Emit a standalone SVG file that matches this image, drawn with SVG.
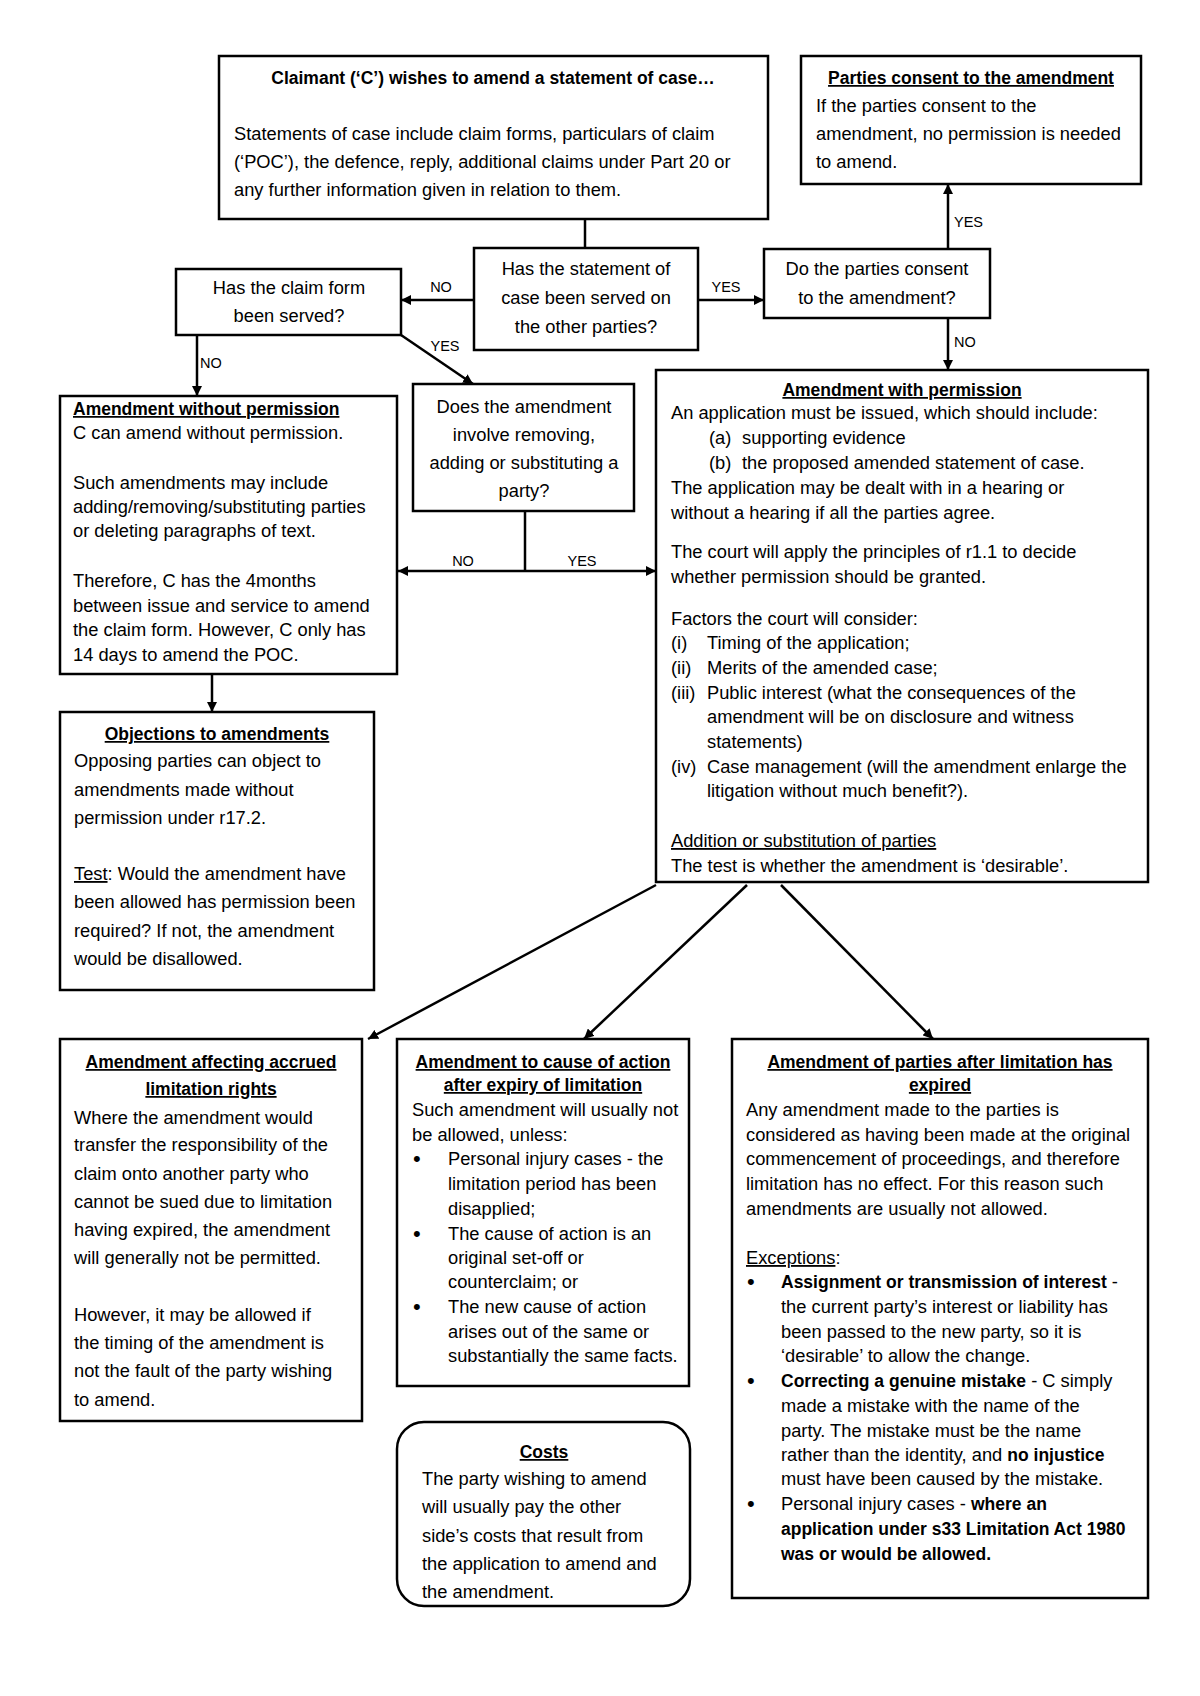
<svg xmlns="http://www.w3.org/2000/svg" width="1200" height="1696" viewBox="0 0 1200 1696">
<style>
.bg{fill:#fff}
.box{fill:#fff;stroke:#000;stroke-width:2.5}
text{font-family:"Liberation Sans",Arial,sans-serif;font-size:18.3px;fill:#000}
.b{font-weight:bold;font-size:17.5px}
.u{text-decoration:underline}
.c{text-anchor:middle}
.lbl{font-size:14.5px}
.bul{font-size:22px}
.conn line,.conn path{stroke:#000;stroke-width:2.5;fill:none}
</style>
<defs>
<marker id="ah" viewBox="0 0 10 10" refX="10" refY="5" markerWidth="4" markerHeight="4" orient="auto-start-reverse" markerUnits="strokeWidth">
<path d="M0,0 L10,5 L0,10 z" fill="#000"/>
</marker>
</defs>
<rect class="bg" x="0" y="0" width="1200" height="1696"/>

<g id="connectors" class="conn">
<line x1="585" y1="219" x2="585" y2="248"/>
<line x1="474" y1="300" x2="401" y2="300" marker-end="url(#ah)"/>
<line x1="698" y1="300" x2="764" y2="300" marker-end="url(#ah)"/>
<line x1="948" y1="249" x2="948" y2="184" marker-end="url(#ah)"/>
<line x1="948" y1="318" x2="948" y2="370" marker-end="url(#ah)"/>
<line x1="197" y1="335" x2="197" y2="396" marker-end="url(#ah)"/>
<line x1="401" y1="335" x2="473" y2="384" marker-end="url(#ah)"/>
<line x1="525" y1="511" x2="525" y2="571"/>
<line x1="398" y1="571" x2="656" y2="571" marker-start="url(#ah)" marker-end="url(#ah)"/>
<line x1="212" y1="674" x2="212" y2="712" marker-end="url(#ah)"/>
<line x1="656" y1="885" x2="368" y2="1039" marker-end="url(#ah)"/>
<line x1="747" y1="885" x2="584" y2="1039" marker-end="url(#ah)"/>
<line x1="781" y1="885" x2="933" y2="1039" marker-end="url(#ah)"/>
<text class="lbl c" x="441" y="292">NO</text>
<text class="lbl c" x="726" y="292">YES</text>
<text class="lbl" x="954" y="227">YES</text>
<text class="lbl" x="954" y="347">NO</text>
<text class="lbl" x="200" y="368">NO</text>
<text class="lbl c" x="445" y="351">YES</text>
<text class="lbl c" x="463" y="566">NO</text>
<text class="lbl c" x="582" y="566">YES</text>
</g>

<g id="claimant">
<rect class="box" x="219" y="56" width="549" height="163"/>
<text class="b c" x="493" y="84">Claimant (‘C’) wishes to amend a statement of case…</text>
<text x="234" y="140">Statements of case include claim forms, particulars of claim</text>
<text x="234" y="168">(‘POC’), the defence, reply, additional claims under Part 20 or</text>
<text x="234" y="196">any further information given in relation to them.</text>
</g>

<g id="parties-consent">
<rect class="box" x="801" y="56" width="340" height="128"/>
<text class="b u c" x="971" y="84">Parties consent to the amendment</text>
<text x="816" y="112">If the parties consent to the</text>
<text x="816" y="140">amendment, no permission is needed</text>
<text x="816" y="168">to amend.</text>
</g>

<g id="statement-served">
<rect class="box" x="474" y="248" width="224" height="102"/>
<text class="c" x="586" y="275">Has the statement of</text>
<text class="c" x="586" y="304">case been served on</text>
<text class="c" x="586" y="333">the other parties?</text>
</g>

<g id="claim-form-served">
<rect class="box" x="176" y="269" width="225" height="66"/>
<text class="c" x="289" y="294">Has the claim form</text>
<text class="c" x="289" y="322">been served?</text>
</g>

<g id="consent-question">
<rect class="box" x="764" y="249" width="226" height="69"/>
<text class="c" x="877" y="275">Do the parties consent</text>
<text class="c" x="877" y="304">to the amendment?</text>
</g>

<g id="without-permission">
<rect class="box" x="60" y="396" width="337" height="278"/>
<text class="b u" x="73" y="415">Amendment without permission</text>
<text x="73" y="439">C can amend without permission.</text>
<text x="73" y="489">Such amendments may include</text>
<text x="73" y="513">adding/removing/substituting parties</text>
<text x="73" y="537">or deleting paragraphs of text.</text>
<text x="73" y="587">Therefore, C has the 4months</text>
<text x="73" y="612">between issue and service to amend</text>
<text x="73" y="636">the claim form. However, C only has</text>
<text x="73" y="661">14 days to amend the POC.</text>
</g>

<g id="party-question">
<rect class="box" x="413" y="384" width="221" height="127"/>
<text class="c" x="524" y="413">Does the amendment</text>
<text class="c" x="524" y="441">involve removing,</text>
<text class="c" x="524" y="469">adding or substituting a</text>
<text class="c" x="524" y="497">party?</text>
</g>

<g id="with-permission">
<rect class="box" x="656" y="370" width="492" height="512"/>
<text class="b u c" x="902" y="396">Amendment with permission</text>
<text x="671" y="419">An application must be issued, which should include:</text>
<text x="709" y="444">(a)</text><text x="742" y="444">supporting evidence</text>
<text x="709" y="469">(b)</text><text x="742" y="469">the proposed amended statement of case.</text>
<text x="671" y="494">The application may be dealt with in a hearing or</text>
<text x="671" y="519">without a hearing if all the parties agree.</text>
<text x="671" y="558">The court will apply the principles of r1.1 to decide</text>
<text x="671" y="583">whether permission should be granted.</text>
<text x="671" y="625">Factors the court will consider:</text>
<text x="671" y="649">(i)</text><text x="707" y="649">Timing of the application;</text>
<text x="671" y="674">(ii)</text><text x="707" y="674">Merits of the amended case;</text>
<text x="671" y="699">(iii)</text><text x="707" y="699">Public interest (what the consequences of the</text>
<text x="707" y="723">amendment will be on disclosure and witness</text>
<text x="707" y="748">statements)</text>
<text x="671" y="773">(iv)</text><text x="707" y="773">Case management (will the amendment enlarge the</text>
<text x="707" y="797">litigation without much benefit?).</text>
<text class="u" x="671" y="847">Addition or substitution of parties</text>
<text x="671" y="872">The test is whether the amendment is ‘desirable’.</text>
</g>

<g id="objections">
<rect class="box" x="60" y="712" width="314" height="278"/>
<text class="b u c" x="217" y="740">Objections to amendments</text>
<text x="74" y="767">Opposing parties can object to</text>
<text x="74" y="796">amendments made without</text>
<text x="74" y="824">permission under r17.2.</text>
<text x="74" y="880"><tspan class="u">Test</tspan>: Would the amendment have</text>
<text x="74" y="908">been allowed has permission been</text>
<text x="74" y="937">required? If not, the amendment</text>
<text x="74" y="965">would be disallowed.</text>
</g>

<g id="accrued-limitation">
<rect class="box" x="60" y="1039" width="302" height="382"/>
<text class="b u c" x="211" y="1068">Amendment affecting accrued</text>
<text class="b u c" x="211" y="1095">limitation rights</text>
<text x="74" y="1124">Where the amendment would</text>
<text x="74" y="1151">transfer the responsibility of the</text>
<text x="74" y="1180">claim onto another party who</text>
<text x="74" y="1208">cannot be sued due to limitation</text>
<text x="74" y="1236">having expired, the amendment</text>
<text x="74" y="1264">will generally not be permitted.</text>
<text x="74" y="1321">However, it may be allowed if</text>
<text x="74" y="1349">the timing of the amendment is</text>
<text x="74" y="1377">not the fault of the party wishing</text>
<text x="74" y="1406">to amend.</text>
</g>

<g id="cause-of-action">
<rect class="box" x="397" y="1039" width="292" height="347"/>
<text class="b u c" x="543" y="1068">Amendment to cause of action</text>
<text class="b u c" x="543" y="1091">after expiry of limitation</text>
<text x="412" y="1116">Such amendment will usually not</text>
<text x="412" y="1141">be allowed, unless:</text>
<text class="bul" x="413" y="1166">•</text><text x="448" y="1165">Personal injury cases - the</text>
<text x="448" y="1190">limitation period has been</text>
<text x="448" y="1215">disapplied;</text>
<text class="bul" x="413" y="1241">•</text><text x="448" y="1240">The cause of action is an</text>
<text x="448" y="1264">original set-off or</text>
<text x="448" y="1288">counterclaim; or</text>
<text class="bul" x="413" y="1314">•</text><text x="448" y="1313">The new cause of action</text>
<text x="448" y="1338">arises out of the same or</text>
<text x="448" y="1362">substantially the same facts.</text>
</g>

<g id="parties-after-limitation">
<rect class="box" x="732" y="1039" width="416" height="559"/>
<text class="b u c" x="940" y="1068">Amendment of parties after limitation has</text>
<text class="b u c" x="940" y="1091">expired</text>
<text x="746" y="1116">Any amendment made to the parties is</text>
<text x="746" y="1141">considered as having been made at the original</text>
<text x="746" y="1165">commencement of proceedings, and therefore</text>
<text x="746" y="1190">limitation has no effect. For this reason such</text>
<text x="746" y="1215">amendments are usually not allowed.</text>
<text x="746" y="1264"><tspan class="u">Exceptions</tspan>:</text>
<text class="bul" x="747" y="1289">•</text><text x="781" y="1288"><tspan class="b">Assignment or transmission of interest</tspan> -</text>
<text x="781" y="1313">the current party’s interest or liability has</text>
<text x="781" y="1338">been passed to the new party, so it is</text>
<text x="781" y="1362">‘desirable’ to allow the change.</text>
<text class="bul" x="747" y="1388">•</text><text x="781" y="1387"><tspan class="b">Correcting a genuine mistake</tspan> - C simply</text>
<text x="781" y="1412">made a mistake with the name of the</text>
<text x="781" y="1437">party. The mistake must be the name</text>
<text x="781" y="1461">rather than the identity, and <tspan class="b">no injustice</tspan></text>
<text x="781" y="1485">must have been caused by the mistake.</text>
<text class="bul" x="747" y="1511">•</text><text x="781" y="1510">Personal injury cases - <tspan class="b">where an</tspan></text>
<text class="b" x="781" y="1535">application under s33 Limitation Act 1980</text>
<text class="b" x="781" y="1560">was or would be allowed.</text>
</g>

<g id="costs">
<rect class="box" x="397" y="1422" width="293" height="184" rx="27" ry="27"/>
<text class="b u c" x="544" y="1458">Costs</text>
<text x="422" y="1485">The party wishing to amend</text>
<text x="422" y="1513">will usually pay the other</text>
<text x="422" y="1542">side’s costs that result from</text>
<text x="422" y="1570">the application to amend and</text>
<text x="422" y="1598">the amendment.</text>
</g>
</svg>
